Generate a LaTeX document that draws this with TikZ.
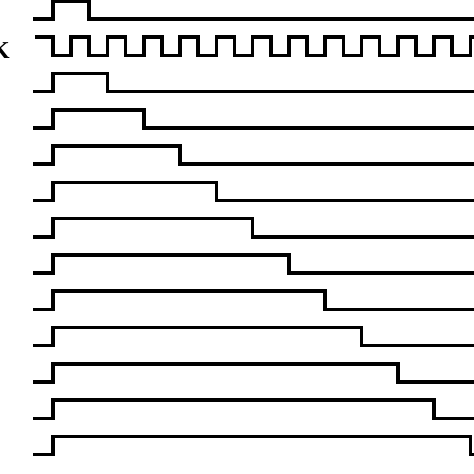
\documentclass[tikz,border=0pt]{standalone}
\usepackage{fontspec}
\setmainfont{Liberation Serif}
\begin{document}
\begin{tikzpicture}[x=0.5cm,y=0.5cm]
   \tikzset{wave/.style = {line width=2.8pt,line join=miter}}
   \useasboundingbox (-2.92,1.05) rectangle (23.2,-25.07);

   \node[anchor=east,font=\bfseries\fontsize{19}{21}\selectfont,inner sep=0pt] (clk) at (-2.37,-1.72) {CLK};

   % start pulse
   \draw[wave] (-1.1,0) -- (0,0) -- (0,1) -- (2,1) -- (2,0) -- (23.4,0);

   % clock
   \draw[wave] (-1,-1) -- (0,-1)
      \foreach \k in {0,2,...,22} { -- (\k,-1) -- (\k,-2) -- (\k+1,-2) -- (\k+1,-1) }
      -- (23.4,-1);

   % shift stages
   \draw[wave] (-1.1,-4) -- (0,-4) -- (0,-3) -- (3,-3) -- (3,-4) -- (23.4,-4);
   \draw[wave] (-1.1,-6) -- (0,-6) -- (0,-5) -- (5,-5) -- (5,-6) -- (23.4,-6);
   \draw[wave] (-1.1,-8) -- (0,-8) -- (0,-7) -- (7,-7) -- (7,-8) -- (23.4,-8);
   \draw[wave] (-1.1,-10) -- (0,-10) -- (0,-9) -- (9,-9) -- (9,-10) -- (23.4,-10);
   \draw[wave] (-1.1,-12) -- (0,-12) -- (0,-11) -- (11,-11) -- (11,-12) -- (23.4,-12);
   \draw[wave] (-1.1,-14) -- (0,-14) -- (0,-13) -- (13,-13) -- (13,-14) -- (23.4,-14);
   \draw[wave] (-1.1,-16) -- (0,-16) -- (0,-15) -- (15,-15) -- (15,-16) -- (23.4,-16);
   \draw[wave] (-1.1,-18) -- (0,-18) -- (0,-17) -- (17,-17) -- (17,-18) -- (23.4,-18);
   \draw[wave] (-1.1,-20) -- (0,-20) -- (0,-19) -- (19,-19) -- (19,-20) -- (23.4,-20);
   \draw[wave] (-1.1,-22) -- (0,-22) -- (0,-21) -- (21,-21) -- (21,-22) -- (23.4,-22);
   \draw[wave] (-1.1,-24) -- (0,-24) -- (0,-23) -- (23,-23) -- (23,-24) -- (23.4,-24);
\end{tikzpicture}
\end{document}
